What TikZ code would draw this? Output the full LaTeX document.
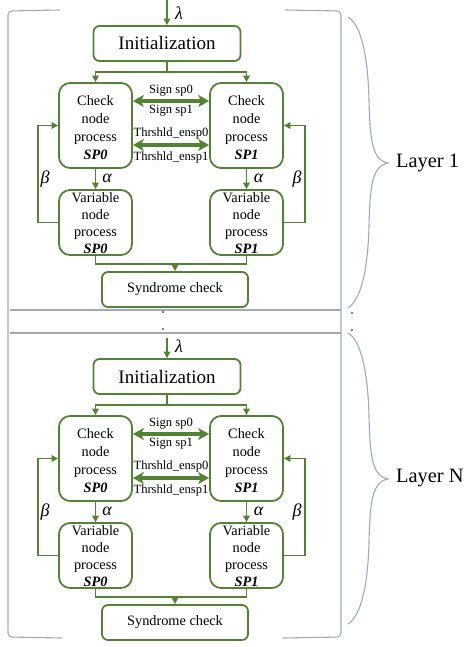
\documentclass[tikz,border=0pt]{standalone}
\usepackage{fontspec}
\setmainfont{Liberation Serif}
\usetikzlibrary{arrows.meta,calc}
\definecolor{grn}{RGB}{84,130,53}
\definecolor{frm}{RGB}{160,170,182}
\begin{document}
\begin{tikzpicture}[x=1pt,y=-1pt,
  box/.style={draw=grn, line width=1.8pt, rounded corners=6pt, inner sep=0pt},
  pbox/.style={box, rounded corners=11pt, minimum width=73pt},
  conn/.style={draw=grn, line width=1.7pt},
  arr/.style={conn, -{Triangle[length=6.5pt,width=6.5pt]}},
  dbl/.style={draw=grn, line width=3.2pt, {Stealth[length=11pt,width=12pt,inset=3pt]}-{Stealth[length=11pt,width=12pt,inset=3pt]}},
  frame/.style={draw=frm, line width=1.1pt},
  btxt/.style={font=\fontsize{14.3}{18}\selectfont, align=center, inner sep=0pt},
  vtxt/.style={font=\fontsize{14.3}{17}\selectfont, align=center, inner sep=0pt},
  lbl/.style={font=\fontsize{12.6}{14}\selectfont, inner sep=0pt},
  grk/.style={font=\fontsize{18}{20}\selectfont\itshape, inner sep=0pt},
  lay/.style={font=\fontsize{20.4}{24}\selectfont, anchor=west, inner sep=0pt}
]
\useasboundingbox (0,0) rectangle (474,647);

% outer frame
\draw[frame, rounded corners=4pt] (60,10) -- (8,11) -- (8,637) -- (62,638);
\draw[frame, rounded corners=4pt] (285,10) -- (341,11) -- (341,637) -- (283,638);
\draw[frame] (10,310) -- (341,310);
\draw[frame] (10,333) -- (341,333);
\fill (163,312) circle[radius=0.9pt];
\fill (163,329) circle[radius=0.9pt];
\fill (352,313) circle[radius=0.9pt];
\fill (352,330) circle[radius=0.9pt];

% braces
\foreach \by in {0,316}{
\begin{scope}[yshift=-\by pt]
\draw[frame] (348,17) .. controls (362,25) and (368,60) .. (369,100)
  .. controls (370,140) and (372,160) .. (388,163)
  .. controls (372,166) and (370,186) .. (369,226)
  .. controls (368,266) and (362,299) .. (348,308);
\end{scope}}
\node[lay] (lay1) at (396,163) {Layer 1};
\node[lay] (layN) at (396,478) {Layer N};

\foreach \oy/\L/\ls in {0/a/0,333/b/5}{
\begin{scope}[yshift=-\oy pt]
\node[box, minimum width=147pt, minimum height=35pt, font=\fontsize{19}{22}\selectfont] (init-\L) at (167,43.5) {Initialization};
\node[pbox, minimum height=85pt] (chk0-\L) at (95.5,125.5) {};
\node[pbox, minimum height=85pt] (chk1-\L) at (246.5,125.5) {};
\node[pbox, minimum height=65pt] (var0-\L) at (95.5,222.5) {};
\node[pbox, minimum height=65pt] (var1-\L) at (246.5,222.5) {};
\node[box, minimum width=146pt, minimum height=35pt, font=\fontsize{14.3}{17}\selectfont] (syn-\L) at (175,289.5) {Syndrome check};

\node[btxt] (chk0t-\L) at (95.5,128) {Check\\node\\process\\\textbf{\textit{SP0}}};
\node[btxt] (chk1t-\L) at (246.5,128) {Check\\node\\process\\\textbf{\textit{SP1}}};
\node[vtxt] (var0t-\L) at (95.5,223) {Variable\\node\\process\\\textbf{\textit{SP0}}};
\node[vtxt] (var1t-\L) at (246.5,223) {Variable\\node\\process\\\textbf{\textit{SP1}}};

% lambda
\coordinate (lam-\L) at (167,\ls);
\draw[arr] (lam-\L) -- (init-\L.north);
\node[grk] (lamt-\L) at (179,13.5) {λ};

% split
\coordinate (split-\L) at (167,72);
\draw[conn] (init-\L.south) -- (split-\L);
\draw[arr] (split-\L) -| (chk0-\L.north);
\draw[arr] (split-\L) -| (chk1-\L.north);

% alpha
\draw[arr] (chk0-\L.south) -- (var0-\L.north);
\draw[arr] (chk1-\L.south) -- (var1-\L.north);
\node[grk] (al0-\L) at (107,178) {α};
\node[grk] (al1-\L) at (258.5,178) {α};

% beta
\draw[arr] (var0-\L.west) -- ++(-20,0) |- (chk0-\L.west);
\draw[arr] (var1-\L.east) -- ++(21,0) |- (chk1-\L.east);
\node[grk] (be0-\L) at (45,179) {β};
\node[grk] (be1-\L) at (297,179) {β};

% double arrows
\draw[dbl] ($(chk0-\L.east)+(0,-24.5)$) -- ($(chk1-\L.west)+(0,-24.5)$);
\draw[dbl] ($(chk0-\L.east)+(0,19.5)$) -- ($(chk1-\L.west)+(0,19.5)$);
\node[lbl] (s0-\L) at (171,91) {Sign sp0};
\node[lbl] (s1-\L) at (171,110.5) {Sign sp1};
\node[lbl] (t0-\L) at (171,133) {Thrshld\_ensp0};
\node[lbl] (t1-\L) at (171,157) {Thrshld\_ensp1};

% merge to syndrome
\draw[conn] (var0-\L.south) -- ++(0,8) -| (var1-\L.south);
\coordinate (j-\L) at (175,263);
\draw[arr] (j-\L) -- (syn-\L.north);
\end{scope}}
\end{tikzpicture}
\end{document}
